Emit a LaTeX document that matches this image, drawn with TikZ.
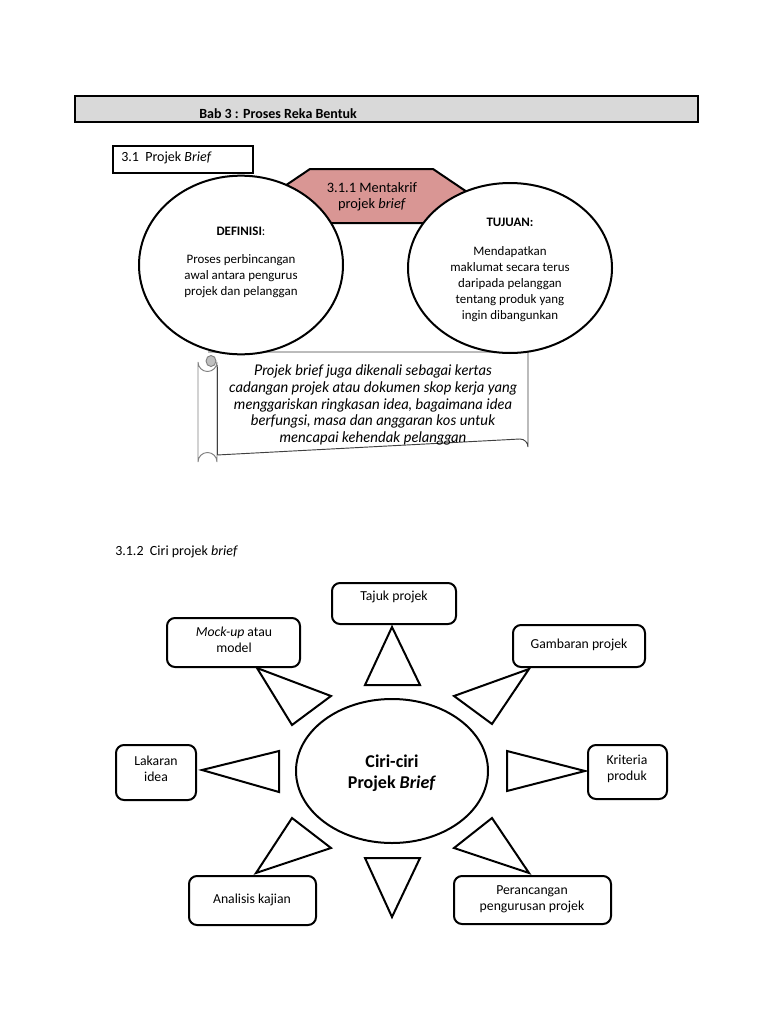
\documentclass[tikz,border=0pt]{standalone}
\usepackage{fontspec}
\setmainfont{Carlito}
\newfontfamily\latofont{Lato}
\usetikzlibrary{shapes.geometric,fit}
\definecolor{hexpink}{HTML}{D99694}
\definecolor{barfill}{HTML}{D9D9D9}
\begin{document}
\begin{tikzpicture}[x=0.75pt,y=-0.75pt,
  thinbox/.style={draw=black, line width=0.8pt, inner sep=0pt},
  rbox/.style={draw=black, line width=1.5pt, rounded corners=6pt, fill=white, inner sep=0pt},
  tri/.style={draw=black, line width=1.5pt, line join=miter, fill=white},
  oval/.style={ellipse, draw=black, line width=1.5pt, fill=white, inner sep=0pt},
  lbl/.style={inner sep=0pt, align=center, font=\fontsize{10.3}{12}\selectfont},
  elbl/.style={inner sep=0pt, align=center, font=\fontsize{9.7}{11.8}\selectfont},
  sectxt/.style={inner sep=0pt, anchor=west, font=\fontsize{10.5}{12}\selectfont},
  scrollline/.style={draw=black!75, line width=0.7pt},
]
\useasboundingbox (0,0) rectangle (768,1024);

% header bar
\node[thinbox, fill=barfill, fit={(75,96) (698,122)}] (bar) {};
\node[sectxt, font=\bfseries\fontsize{10.5}{12}\selectfont] (barT) at (199,114) {Bab 3 : Proses Reka Bentuk};

% 3.1 box
\node[thinbox, fit={(113,146) (253,173)}] (sec31) {};
\node[sectxt] (sec31T) at (121,158) {3.1 \ Projek \textit{Brief}};

% hexagon
\draw[draw=black, line width=1.5pt, fill=hexpink, line join=miter]
  (310,169) -- (433,169) -- (473,196) -- (433,223) -- (310,223) -- (270,196) -- cycle;
\node[lbl, font=\fontsize{10.8}{12}\selectfont] (hexT) at (372,197) {3.1.1 Mentakrif\\projek \textit{brief}};

% scroll
\draw[scrollline, fill=white]
  (208,352) -- (520,352) arc[start angle=90, end angle=0, radius=8] -- (528,447)
  arc[start angle=0, end angle=-90, radius=8] -- (217,455);
\draw[scrollline] (217,365) -- (217,455);
\draw[scrollline, draw=black!50, fill=white]
  (198,362) arc[start angle=180, end angle=0, radius=9.5] -- (217,462)
  arc[start angle=0, end angle=-180, radius=9.5] -- cycle;
\draw[scrollline, draw=black!50] (217,365) -- (217,455);
\draw[scrollline, draw=black!50, fill=black!25]
  (211,361) ellipse[x radius=5, y radius=5.5];
\draw[scrollline] (217,367) -- (217,455);
\node[inner sep=0pt, align=center, font=\latofont\itshape\fontsize{11}{12.6}\selectfont] (scrollT) at (373,405)
  {Projek brief juga dikenali sebagai kertas\\
   cadangan projek atau dokumen skop kerja yang\\
   menggariskan ringkasan idea, bagaimana idea\\
   berfungsi, masa dan anggaran kos untuk\\
   mencapai kehendak pelanggan};

% ellipses
\node[oval, minimum width=153pt, minimum height=134pt] (defin) at (241,265) {};
\node[elbl, font=\bfseries\fontsize{9.7}{11.8}\selectfont] (definH) at (241,231) {DEFINISI\mdseries:};
\node[elbl] (definT) at (241,276) {Proses perbincangan\\awal antara pengurus\\projek dan pelanggan};

\node[oval, minimum width=153pt, minimum height=127.5pt] (tujuan) at (510,268) {};
\node[elbl, font=\bfseries\fontsize{9.7}{11.8}\selectfont] (tujuanH) at (510,222) {TUJUAN:};
\node[elbl, font=\fontsize{9.7}{11.9}\selectfont] (tujuanT) at (510,284) {Mendapatkan\\maklumat secara terus\\daripada pelanggan\\tentang produk yang\\ingin dibangunkan};

% section 3.1.2
\node[sectxt] (sec312) at (115,552) {3.1.2 \ Ciri projek \textit{brief}};

% centre
\node[oval, minimum width=144pt, minimum height=108pt] (ciri) at (392,771) {};
\node[inner sep=0pt, align=center, font=\bfseries\fontsize{13.5}{15.8}\selectfont] (ciriT) at (392,773) {Ciri-ciri\\Projek \textit{Brief}};

% boxes
\node[rbox, fit={(332,583) (456,624)}] (tajuk) {};
\node[lbl] (tajukT) at (394,597) {Tajuk projek};
\node[rbox, fit={(167,618) (300,667)}] (mock) {};
\node[lbl] (mockT) at (234,640) {\textit{Mock-up} atau\\model};
\node[rbox, fit={(513,625) (645,667)}] (gamb) {};
\node[lbl] (gambT) at (579,645) {Gambaran projek};
\node[rbox, fit={(116,745) (196,800)}] (lakar) {};
\node[lbl] (lakarT) at (156,769) {Lakaran\\idea};
\node[rbox, fit={(588,745) (667,799)}] (krit) {};
\node[lbl] (kritT) at (627,769) {Kriteria\\produk};
\node[rbox, fit={(189,876) (316,925)}] (anal) {};
\node[lbl] (analT) at (252,900) {Analisis kajian};
\node[rbox, fit={(454,876) (611,924)}] (peran) {};
\node[lbl] (peranT) at (532,899) {Perancangan\\pengurusan projek};

% triangles
\draw[tri] (392,627) -- (365,685) -- (420,685) -- cycle;
\draw[tri] (257,668) -- (331,696) -- (292,725) -- cycle;
\draw[tri] (529,669) -- (454,696) -- (492,724) -- cycle;
\draw[tri] (202,770) -- (279,751) -- (279,792) -- cycle;
\draw[tri] (585,771) -- (507,751) -- (507,791) -- cycle;
\draw[tri] (256,873) -- (292,818) -- (331,848) -- cycle;
\draw[tri] (365,858) -- (420,858) -- (392,917) -- cycle;
\draw[tri] (529,873) -- (454,848) -- (492,818) -- cycle;
\end{tikzpicture}
\end{document}
